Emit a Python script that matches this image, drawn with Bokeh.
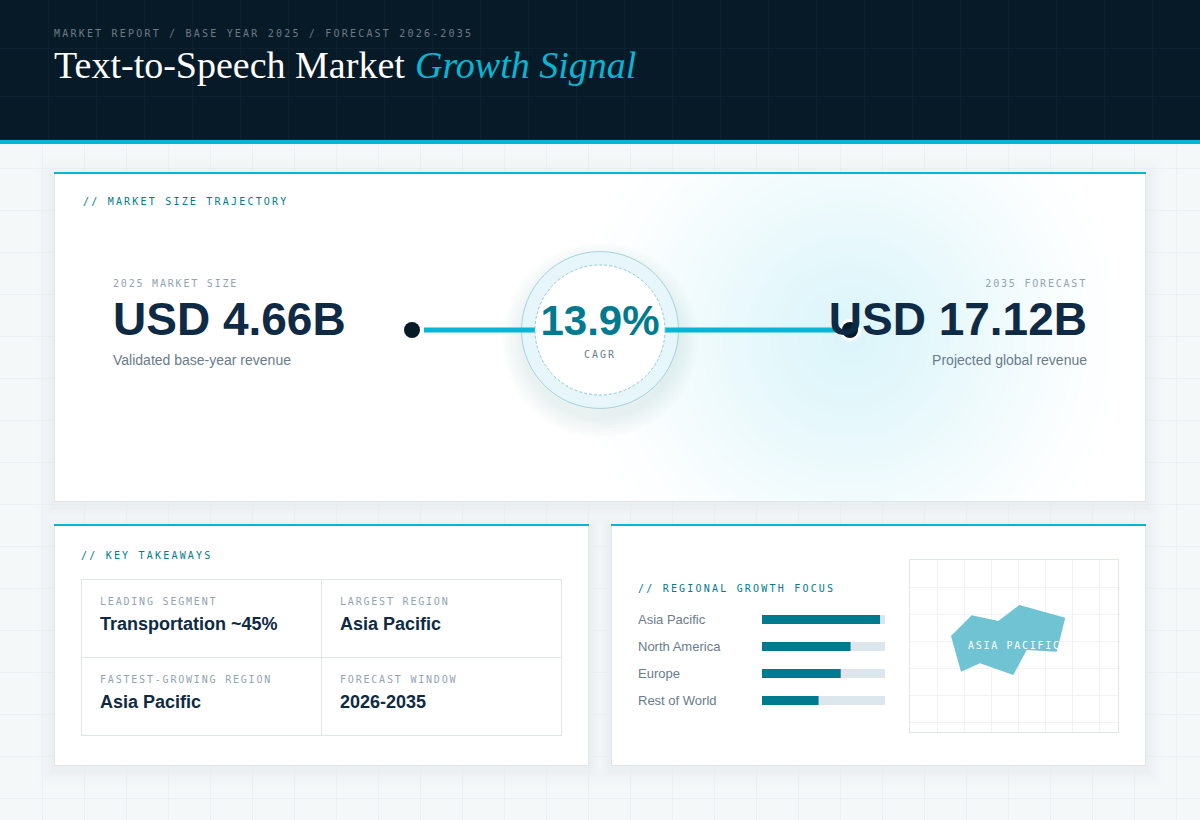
import numpy as np
from bokeh.core.properties import value
from bokeh.embed import file_html
from bokeh.io import curdoc
from bokeh.models import CustomJS, Range1d
from bokeh.plotting import figure
from bokeh.resources import INLINE

# data
eyebrow = "MARKET REPORT / BASE YEAR 2025 / FORECAST 2026-2035"
base_label, base_value, base_note = "2025 MARKET SIZE", "USD 4.66B", "Validated base-year revenue"
fore_label, fore_value, fore_note = "2035 FORECAST", "USD 17.12B", "Projected global revenue"
cagr = "13.9%"
card_labels = ["LEADING SEGMENT", "LARGEST REGION", "FASTEST-GROWING REGION", "FORECAST WINDOW"]
card_values = ["Transportation ~45%", "Asia Pacific", "Asia Pacific", "2026-2035"]
regions = ["Asia Pacific", "North America", "Europe", "Rest of World"]
region_share = [96, 72, 64, 46]
map_x = [971.7, 998.3, 1019.3, 1065.3, 1056.7, 1026.7, 1013.3, 980, 961, 951]
map_y = [615.3, 621, 605, 617.7, 651.7, 650, 675, 663.3, 671.7, 636]

NAVY = "#0f2a44"
INK = "#071a28"
CYAN = "#06b6d4"
TEAL = "#007a8f"
GREY = "#687c8d"
PALE = "#90a4b4"
BG = "#f5f8f9"
EDGE = "#dfe5e9"
MONO = "DejaVu Sans Mono"
SANS = "Liberation Sans"
SERIF = "Liberation Serif"


def mix(a, b, t):
    a = [int(a[i:i + 2], 16) for i in (1, 3, 5)]
    b = [int(b[i:i + 2], 16) for i in (1, 3, 5)]
    return "#%02x%02x%02x" % tuple(round(u + (v - u) * t) for u, v in zip(a, b))


# the svg canvas is translated by 0.5px and glyphs clip short of its edge,
# so the figure is 1px bigger and pulled 1px off the page
p = figure(width=1201, height=821, x_range=Range1d(-0.5, 1200.5), y_range=Range1d(820.5, -0.5),
           x_axis_type=None, y_axis_type=None, toolbar_location=None, output_backend="svg",
           min_border=0, outline_line_color=None, background_fill_color=BG,
           border_fill_color=BG, margin=(-1, -1, -1, -1))
p.grid.visible = False

# 0-100 share scale that sits on the bar tracks
track_left, track_right = 762, 885
per_px = 100 / (track_right - track_left)
p.extra_x_ranges["share"] = Range1d((-0.5 - track_left) * per_px, (1200.5 - track_left) * per_px)

spacing = {}


def txt(x, y, s, font, size, color, align="left", style="normal", ls=0):
    # the letter spacing is added after bokeh has placed the text, so allow for it here
    if align == "right":
        x -= len(s) * ls
    elif align == "center":
        x -= len(s) * ls / 2
    # the svg text sits lower than the given baseline, pull it back up
    p.text([x], [y - 0.36 * size], text=[s], text_font=value(font), text_font_size=f"{size}px",
           text_font_style=style, text_color=color, text_align=align, text_baseline="alphabetic")
    if ls:
        spacing[s] = ls


def box(l, t, r, b, color, alpha=1.0):
    p.quad(left=[l], right=[r], top=[t], bottom=[b], fill_color=color, fill_alpha=alpha, line_color=None)


def disc(x, y, r, color, line=None, dash="solid", alpha=1.0):
    p.circle([x], [y], radius=r, fill_color=color, fill_alpha=alpha, line_color=line, line_dash=dash, line_width=1)


panels = [(54, 172, 1146, 502), (54, 524, 589, 766), (611, 524, 1146, 766)]

# soft panel shadows
for d in range(24, 0, -2):
    col = mix(BG, "#e8edf0", (1 - d / 24) ** 2)
    for l, t, r, b in panels:
        box(l - d, t - d + 4, r + d, b + d + 4, col)

# page grid
for gx in range(42, 1200, 42):
    p.line([gx + 0.5, gx + 0.5], [144, 820], line_color="#e3e9ed", line_alpha=0.55, line_width=1)
for gy in range(168, 820, 42):
    p.line([0, 1200], [gy + 0.5, gy + 0.5], line_color="#e3e9ed", line_alpha=0.55, line_width=1)

for l, t, r, b in panels:
    box(l, t, r, b, EDGE)
    box(l + 1, t, r - 1, b - 1, "#ffffff")

# header
box(-2, -2, 1202, 140, INK)
box(-2, 140, 1202, 144, CYAN)
for gx in range(48, 1200, 48):
    p.line([gx + 0.5, gx + 0.5], [0, 140], line_color="#0e2433", line_alpha=0.7, line_width=1)
for gy in (48, 96):
    p.line([0, 1200], [gy + 0.5, gy + 0.5], line_color="#0e2433", line_alpha=0.7, line_width=1)
txt(54, 37, eyebrow, MONO, 10, "#6e7b84", ls=2.2)
txt(54, 79, "Text-to-Speech Market", SERIF, 38, "#ffffff")
txt(415, 79, "Growth Signal", SERIF, 38, CYAN, style="italic")

# glow behind the forecast side, flattened against the panel edges
theta = np.linspace(0, 2 * np.pi, 121)
for rr in np.arange(280, 0, -4):
    t = 1 - rr / 280
    col = mix("#ffffff", "#dcf5fa", 0.5 * (t + t * t * (3 - 2 * t)))
    gx = 850 + rr * np.cos(theta)
    gy = np.clip(337 + rr * np.sin(theta), 174, 501)
    p.patch(gx, gy, fill_color=col, line_color=None)

# cyan top edges go over the glow
for l, t, r, b in panels:
    box(l, t, r, t + 2, CYAN)

txt(83, 205, "// MARKET SIZE TRAJECTORY", MONO, 10, TEAL, ls=2.2)
txt(113, 287, base_label, MONO, 10, PALE, ls=1.8)
txt(113, 336, base_value, SANS, 46, NAVY, style="bold")
txt(113, 365, base_note, SANS, 14, GREY)

# CAGR badge
for rad in [98, 95, 92, 89, 86, 83, 80]:
    disc(600, 340, rad, "#14606e", alpha=0.012)
disc(600, 330, 78.5, "#e6f6fa", line="#a6d3dd")
p.line([424, 850], [330, 330], line_color=CYAN, line_width=5)
disc(600, 330, 65, "#ffffff", line="#8fc9d6", dash="3 2")
disc(412, 330, 8, INK)
disc(850, 330, 11, "#ffffff")
disc(850, 330, 8, INK)
txt(600, 335.5, cagr, SANS, 42, TEAL, align="center", style="bold")
txt(600, 358, "CAGR", MONO, 10, GREY, align="center", ls=2)

txt(1087, 287, fore_label, MONO, 10, PALE, align="right", ls=1.8)
txt(1087, 336, fore_value, SANS, 46, NAVY, align="right", style="bold")
txt(1087, 365, fore_note, SANS, 14, GREY, align="right")

# key takeaways table
txt(81, 559, "// KEY TAKEAWAYS", MONO, 10, TEAL, ls=2.2)
for x0, y0, x1, y1 in [(81, 579.5, 562, 579.5), (81, 657.5, 562, 657.5), (81, 735.5, 562, 735.5),
                       (81.5, 579, 81.5, 736), (321.5, 579, 321.5, 736), (561.5, 579, 561.5, 736)]:
    p.line([x0, x1], [y0, y1], line_color=EDGE, line_width=1)
for i, (lab, val) in enumerate(zip(card_labels, card_values)):
    cx = 100 + 240 * (i % 2)
    cy = 78 * (i // 2)
    txt(cx, 605 + cy, lab, MONO, 10, PALE, ls=1.8)
    txt(cx, 630 + cy, val, SANS, 18, NAVY, style="bold")

# regional bars
txt(638, 592, "// REGIONAL GROWTH FOCUS", MONO, 10, TEAL, ls=2.2)
rows = [619.5 + 27 * i for i in range(len(regions))]
p.hbar(y=rows, left=0, right=[100] * len(rows), height=9, x_range_name="share", fill_color="#dce6ed", line_color=None)
p.hbar(y=rows, left=0, right=region_share, height=9, x_range_name="share", fill_color=TEAL, line_color=None)
for name, ry in zip(regions, rows):
    txt(638, ry + 4.5, name, SANS, 13, GREY)

# map inset
box(909, 559, 1119, 733, EDGE)
box(910, 560, 1118, 732, "#ffffff")
for gx in range(937, 1118, 27):
    p.line([gx + 0.5, gx + 0.5], [560, 732], line_color="#f0f3f5", line_width=1)
for gy in range(587, 732, 27):
    p.line([910, 1118], [gy + 0.5, gy + 0.5], line_color="#f0f3f5", line_width=1)
p.patch(map_x, map_y, fill_color="#6fc3d3", line_color=None)
txt(968, 649, "ASIA PACIFIC", MONO, 10, "#ffffff", ls=1.7)

# Bokeh text has no letter spacing, so set it on the svg nodes once they exist
cb = CustomJS(args=dict(spacing=spacing), code="""
const walk = (root) => root.querySelectorAll('*').forEach((el) => {
    if (el.shadowRoot) walk(el.shadowRoot)
    if (el.tagName === 'text' && spacing[el.textContent] !== undefined)
        el.setAttribute('letter-spacing', spacing[el.textContent])
})
walk(document)
for (const ms of [50, 200, 500, 1000, 2000]) setTimeout(() => walk(document), ms)
""")
curdoc().add_root(p)
curdoc().js_on_event("document_ready", cb)

open("out.html", "w").write(file_html(p, INLINE))
